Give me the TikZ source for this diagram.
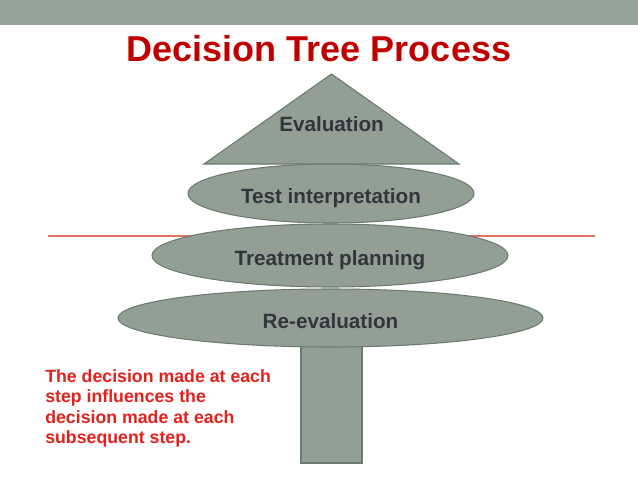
\documentclass[tikz,border=0pt]{standalone}
\usepackage{fontspec}
\setmainfont{Liberation Sans}
\usetikzlibrary{shapes.geometric, calc}
\definecolor{bandgrey}{HTML}{93A39A}
\definecolor{treegreen}{HTML}{919F95}
\definecolor{treeedge}{HTML}{6C7A70}
\definecolor{titlered}{HTML}{C00000}
\definecolor{notered}{HTML}{E3201B}
\definecolor{linered}{HTML}{E07262}
\definecolor{labelgrey}{HTML}{30363C}

\begin{document}
\begin{tikzpicture}[
  x=0.75pt, y=-0.75pt,
  treepart/.style={
    draw=treeedge,
    line width=0.8pt,
    fill=treegreen
  },
  layer/.style={
    treepart,
    ellipse,
    inner sep=0pt,
    text height=15pt,
    text depth=0pt,
    font=\bfseries\fontsize{15.5}{18}\selectfont,
    text=labelgrey
  }
]
  \useasboundingbox (0,0) rectangle (638,478);

  % --- Header band and title ---
  \fill[bandgrey] (0,0) rectangle (638,25);
  \node[anchor=base, text=titlered, font=\bfseries\fontsize{27}{32}\selectfont]
       (title) at (319,62) {Decision Tree Process};

  % --- Ground line ---
  \coordinate (gleft)  at (48,236);
  \coordinate (gright) at (595,236);
  \draw[linered, line width=0.8pt] (gleft) -- (gright);

  % --- Trunk ---
  \draw[treepart] (301,340) rectangle (362,463);

  % --- Layers, bottom up ---
  \node[layer, minimum width=318.75pt, minimum height=43.5pt]  (reeval) at (330.5,318) {Re-evaluation};
  \node[layer, minimum width=267pt,    minimum height=47.25pt] (treat)  at (330,255.5) {Treatment planning};
  \node[layer, minimum width=214.5pt,  minimum height=44.25pt] (test)   at (331,193.5) {Test interpretation};

  % --- Crown ---
  \coordinate (apex)  at (331.5,74);
  \coordinate (bleft) at (204,164);
  \coordinate (bright) at (459,164);
  \draw[treepart] (apex) -- (bright) -- (bleft) -- cycle;
  \node[text=labelgrey, font=\bfseries\fontsize{15.5}{18}\selectfont]
       (eval) at (331.5,124) {Evaluation};

  % --- Note ---
  \node[anchor=north west, align=left, inner sep=0pt, text=notered,
        font=\bfseries\fontsize{13.3}{15.4}\selectfont]
       (note) at (45,369) {The decision made at each\\step influences the\\decision made at each\\subsequent step.};

\end{tikzpicture}
\end{document}
